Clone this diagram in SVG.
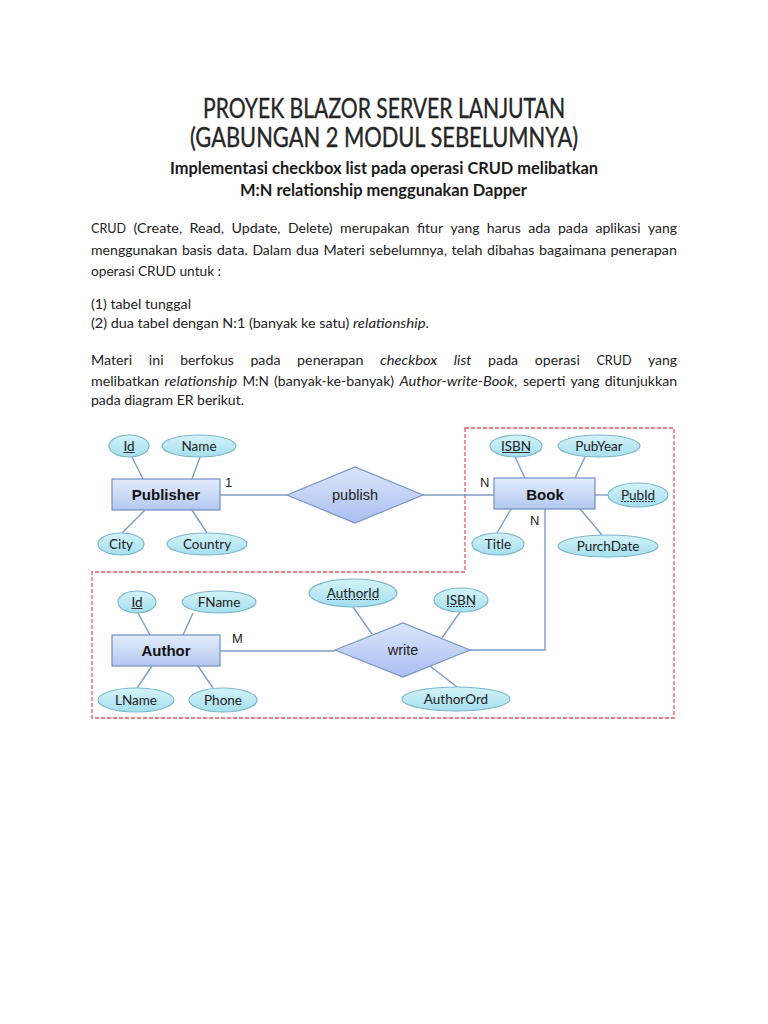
<svg xmlns="http://www.w3.org/2000/svg" width="768" height="1024" viewBox="0 0 768 1024">
<defs>
<linearGradient id="gEnt" x1="0" y1="0" x2="0" y2="1"><stop offset="0" stop-color="#e3ecfc"/><stop offset="1" stop-color="#b3c8f0"/></linearGradient>
<linearGradient id="gRel" x1="0" y1="0" x2="0" y2="1"><stop offset="0" stop-color="#dce6fb"/><stop offset="1" stop-color="#a9bff0"/></linearGradient>
<linearGradient id="gAtt" x1="0" y1="0" x2="0" y2="1"><stop offset="0" stop-color="#d3f3f9"/><stop offset="1" stop-color="#a5dfee"/></linearGradient>
</defs>
<style>
.title{font-family:Lato,"Liberation Sans",sans-serif;font-size:26px;fill:#262626;stroke:#262626;stroke-width:0.35}
.sub{font-family:Lato,"Liberation Sans",sans-serif;font-size:17px;font-weight:bold;fill:#1a1a1a}
.body{font-family:Lato,"Liberation Sans",sans-serif;font-size:14px;fill:#222}
.it{font-style:italic}
.ent rect{fill:url(#gEnt);stroke:#7190c4;stroke-width:1.2}
.ent text{font-family:"Liberation Sans",Arial,sans-serif;font-size:15px;font-weight:bold;fill:#111;text-anchor:middle}
.rel polygon{fill:url(#gRel);stroke:#7895c8;stroke-width:1.2}
.rel text{font-family:"Liberation Sans",Arial,sans-serif;font-size:14.5px;fill:#222;text-anchor:middle}
.att ellipse{fill:url(#gAtt);stroke:#7ab6cb;stroke-width:1.2}
.att text{font-family:Lato,"Liberation Sans",sans-serif;font-size:13.5px;fill:#222;text-anchor:middle}
.ul{stroke:#333;stroke-width:1}
.dul{stroke:#333;stroke-width:1;stroke-dasharray:2 1}
.conn line,.conn polyline{stroke:#7f9cc6;stroke-width:1.4;fill:none}
.card{font-family:"Liberation Sans",Arial,sans-serif;font-size:13px;fill:#222}
.region{fill:none;stroke:#e65a5e;stroke-width:1.3;stroke-dasharray:4 2}
</style>
<rect x="0" y="0" width="768" height="1024" fill="#ffffff"/>

<g id="heading">
<text class="title" x="203" y="118" textLength="362" lengthAdjust="spacingAndGlyphs">PROYEK BLAZOR SERVER LANJUTAN</text>
<text class="title" x="190" y="147" textLength="388" lengthAdjust="spacingAndGlyphs">(GABUNGAN 2 MODUL SEBELUMNYA)</text>
<text class="sub" x="170" y="174" textLength="428" lengthAdjust="spacingAndGlyphs">Implementasi checkbox list pada operasi CRUD melibatkan</text>
<text class="sub" x="240" y="196" textLength="287" lengthAdjust="spacingAndGlyphs">M:N relationship menggunakan Dapper</text>
</g>

<g id="paragraphs" class="body">
<text y="233"><tspan x="91" textLength="35.1" lengthAdjust="spacingAndGlyphs">CRUD</tspan><tspan x="133.5" textLength="48.7" lengthAdjust="spacingAndGlyphs">(Create,</tspan><tspan x="189.6" textLength="34.5" lengthAdjust="spacingAndGlyphs">Read,</tspan><tspan x="231.5" textLength="49" lengthAdjust="spacingAndGlyphs">Update,</tspan><tspan x="287.9" textLength="44.7" lengthAdjust="spacingAndGlyphs">Delete)</tspan><tspan x="340" textLength="69.5" lengthAdjust="spacingAndGlyphs">merupakan</tspan><tspan x="416.9" textLength="26.2" lengthAdjust="spacingAndGlyphs">fitur</tspan><tspan x="450.5" textLength="28.9" lengthAdjust="spacingAndGlyphs">yang</tspan><tspan x="486.8" textLength="34" lengthAdjust="spacingAndGlyphs">harus</tspan><tspan x="528.2" textLength="22.3" lengthAdjust="spacingAndGlyphs">ada</tspan><tspan x="557.9" textLength="30.1" lengthAdjust="spacingAndGlyphs">pada</tspan><tspan x="595.4" textLength="45.2" lengthAdjust="spacingAndGlyphs">aplikasi</tspan><tspan x="648" textLength="28.9" lengthAdjust="spacingAndGlyphs">yang</tspan></text>
<text y="254.5"><tspan x="91" textLength="86.3" lengthAdjust="spacingAndGlyphs">menggunakan</tspan><tspan x="181.9" textLength="30.2" lengthAdjust="spacingAndGlyphs">basis</tspan><tspan x="216.7" textLength="31.1" lengthAdjust="spacingAndGlyphs">data.</tspan><tspan x="252.4" textLength="39" lengthAdjust="spacingAndGlyphs">Dalam</tspan><tspan x="296" textLength="22.9" lengthAdjust="spacingAndGlyphs">dua</tspan><tspan x="323.5" textLength="41.2" lengthAdjust="spacingAndGlyphs">Materi</tspan><tspan x="369.3" textLength="77.6" lengthAdjust="spacingAndGlyphs">sebelumnya,</tspan><tspan x="451.5" textLength="31" lengthAdjust="spacingAndGlyphs">telah</tspan><tspan x="487.1" textLength="47.3" lengthAdjust="spacingAndGlyphs">dibahas</tspan><tspan x="539" textLength="67" lengthAdjust="spacingAndGlyphs">bagaimana</tspan><tspan x="610.6" textLength="66.3" lengthAdjust="spacingAndGlyphs">penerapan</tspan></text>
<text x="91" y="276" textLength="130" lengthAdjust="spacingAndGlyphs">operasi CRUD untuk :</text>
<text x="91" y="308.5" textLength="100" lengthAdjust="spacingAndGlyphs">(1) tabel tunggal</text>
<text x="91" y="328"><tspan textLength="262" lengthAdjust="spacingAndGlyphs">(2) dua tabel dengan N:1 (banyak ke satu) </tspan><tspan class="it" textLength="72.6" lengthAdjust="spacingAndGlyphs">relationship</tspan>.</text>
<text y="364.5"><tspan x="91" textLength="41.2" lengthAdjust="spacingAndGlyphs">Materi</tspan><tspan x="148.8" textLength="14.8" lengthAdjust="spacingAndGlyphs">ini</tspan><tspan x="180.2" textLength="53.6" lengthAdjust="spacingAndGlyphs">berfokus</tspan><tspan x="250.4" textLength="30.1" lengthAdjust="spacingAndGlyphs">pada</tspan><tspan x="297.1" textLength="66.3" lengthAdjust="spacingAndGlyphs">penerapan</tspan><tspan x="380" class="it" textLength="57.2" lengthAdjust="spacingAndGlyphs">checkbox</tspan><tspan x="453.8" class="it" textLength="17.7" lengthAdjust="spacingAndGlyphs">list</tspan><tspan x="488.1" textLength="30.1" lengthAdjust="spacingAndGlyphs">pada</tspan><tspan x="534.8" textLength="45" lengthAdjust="spacingAndGlyphs">operasi</tspan><tspan x="596.4" textLength="35.1" lengthAdjust="spacingAndGlyphs">CRUD</tspan><tspan x="648.1" textLength="28.9" lengthAdjust="spacingAndGlyphs">yang</tspan></text>
<text y="385.5"><tspan x="91" textLength="68.3" lengthAdjust="spacingAndGlyphs">melibatkan</tspan><tspan x="164.5" class="it" textLength="72.6" lengthAdjust="spacingAndGlyphs">relationship</tspan><tspan x="242.4" textLength="26.5" lengthAdjust="spacingAndGlyphs">M:N</tspan><tspan x="274.1" textLength="120" lengthAdjust="spacingAndGlyphs">(banyak-ke-banyak)</tspan><tspan x="399.4" class="it" textLength="114.5" lengthAdjust="spacingAndGlyphs">Author-write-Book</tspan><tspan>,</tspan><tspan x="522.9" textLength="42.4" lengthAdjust="spacingAndGlyphs">seperti</tspan><tspan x="570.5" textLength="28.9" lengthAdjust="spacingAndGlyphs">yang</tspan><tspan x="604.7" textLength="72.3" lengthAdjust="spacingAndGlyphs">ditunjukkan</tspan></text>
<text x="91" y="405" textLength="153" lengthAdjust="spacingAndGlyphs">pada diagram ER berikut.</text>
</g>

<path class="region" d="M465,428 H674 V718 H92 V572 H465 Z"/>

<g id="connectors" class="conn">
<line x1="132" y1="457" x2="143" y2="479"/>
<line x1="200" y1="457" x2="192" y2="479"/>
<line x1="145" y1="510" x2="122" y2="533"/>
<line x1="192" y1="510" x2="207" y2="533"/>
<line x1="220" y1="495" x2="287" y2="495"/>
<line x1="423" y1="495" x2="494" y2="495"/>
<line x1="515" y1="457" x2="525" y2="478"/>
<line x1="585" y1="457" x2="575" y2="478"/>
<line x1="595" y1="495" x2="608" y2="495"/>
<line x1="511" y1="509" x2="497" y2="533"/>
<line x1="580" y1="509" x2="602" y2="535"/>
<polyline points="545,509 545,650 470,650"/>
<line x1="138" y1="613" x2="150" y2="635"/>
<line x1="193" y1="613" x2="183" y2="635"/>
<line x1="152" y1="666" x2="137" y2="688"/>
<line x1="198" y1="666" x2="213" y2="688"/>
<line x1="220" y1="651" x2="335" y2="651"/>
<line x1="353" y1="607" x2="372" y2="634"/>
<line x1="460" y1="612" x2="442" y2="638"/>
<line x1="430" y1="666" x2="457" y2="687"/>
</g>

<g id="publisher" class="ent"><rect x="112" y="479" width="108" height="31"/><text x="166" y="500">Publisher</text></g>
<g id="publisher-id" class="att"><ellipse cx="129" cy="446" rx="20" ry="11"/><text x="129" y="450.5">Id</text><line class="ul" x1="123.5" y1="452.5" x2="134.5" y2="452.5"/></g>
<g id="publisher-name" class="att"><ellipse cx="199" cy="446" rx="37" ry="11"/><text x="199" y="450.5">Name</text></g>
<g id="publisher-city" class="att"><ellipse cx="121" cy="544" rx="23" ry="11"/><text x="121" y="548.5">City</text></g>
<g id="publisher-country" class="att"><ellipse cx="207" cy="544" rx="40" ry="11"/><text x="207" y="548.5">Country</text></g>

<g id="publish" class="rel"><polygon points="287,495 355,467 423,495 355,523"/><text x="355" y="500">publish</text></g>
<text class="card" x="225" y="487">1</text>
<text class="card" x="480" y="487">N</text>
<text class="card" x="530" y="525">N</text>

<g id="book" class="ent"><rect x="494" y="478" width="101" height="31"/><text x="545" y="499.5">Book</text></g>
<g id="book-isbn" class="att"><ellipse cx="516" cy="446" rx="26" ry="11"/><text x="516" y="450.5">ISBN</text><line class="ul" x1="502" y1="452.5" x2="530" y2="452.5"/></g>
<g id="book-pubyear" class="att"><ellipse cx="599" cy="446" rx="41" ry="11"/><text x="599" y="450.5">PubYear</text></g>
<g id="book-pubid" class="att"><ellipse cx="638" cy="495" rx="30" ry="12"/><text x="638" y="499.5">PubId</text><line class="dul" x1="621" y1="501.5" x2="655" y2="501.5"/></g>
<g id="book-title" class="att"><ellipse cx="498" cy="544" rx="26" ry="11"/><text x="498" y="548.5">Title</text></g>
<g id="book-purchdate" class="att"><ellipse cx="608" cy="546" rx="50" ry="11"/><text x="608" y="550.5">PurchDate</text></g>

<g id="author" class="ent"><rect x="112" y="635" width="108" height="31"/><text x="166" y="656">Author</text></g>
<g id="author-id" class="att"><ellipse cx="137" cy="602" rx="19" ry="11"/><text x="137" y="606.5">Id</text><line class="ul" x1="131.5" y1="608.5" x2="142.5" y2="608.5"/></g>
<g id="author-fname" class="att"><ellipse cx="219" cy="602" rx="37" ry="11"/><text x="219" y="606.5">FName</text></g>
<g id="author-lname" class="att"><ellipse cx="136" cy="700" rx="38" ry="12"/><text x="136" y="704.5">LName</text></g>
<g id="author-phone" class="att"><ellipse cx="223" cy="700" rx="34" ry="12"/><text x="223" y="704.5">Phone</text></g>
<text class="card" x="232" y="643">M</text>

<g id="write" class="rel"><polygon points="335,650 403,623 470,650 403,677"/><text x="403" y="655">write</text></g>
<g id="write-authorid" class="att"><ellipse cx="353" cy="593" rx="44" ry="14"/><text x="353" y="597.5">AuthorId</text><line class="dul" x1="327" y1="599.5" x2="379" y2="599.5"/></g>
<g id="write-isbn" class="att"><ellipse cx="461" cy="600" rx="27" ry="12"/><text x="461" y="604.5">ISBN</text><line class="dul" x1="447" y1="606.5" x2="475" y2="606.5"/></g>
<g id="write-authorord" class="att"><ellipse cx="456" cy="699" rx="54" ry="12"/><text x="456" y="703.5">AuthorOrd</text></g>
</svg>
